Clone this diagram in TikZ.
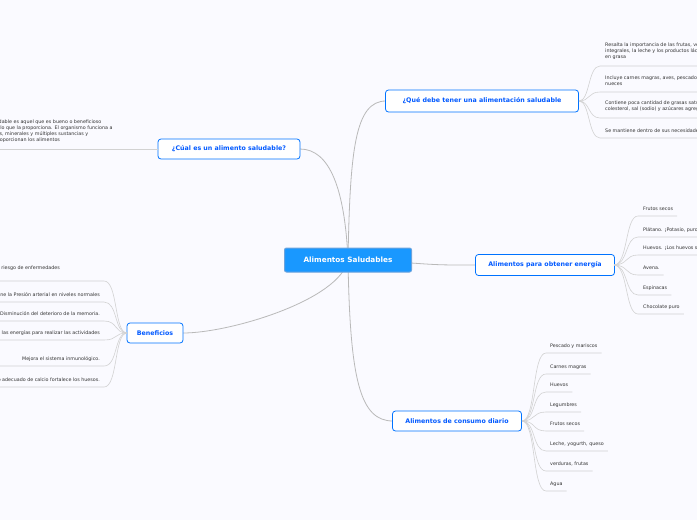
\documentclass[tikz,border=0pt]{standalone}
\usepackage{fontspec}
\setmainfont{DejaVu Sans}
\begin{document}
\begin{tikzpicture}[x=1pt,y=-1pt,
  conn/.style={draw=gray!55,line width=0.8pt},
  lconn/.style={draw=gray!35,line width=0.6pt},
  branch/.style={draw=blue!55!cyan,line width=0.8pt,fill=white,rounded corners=3pt,font=\fontsize{6.3}{8}\selectfont\bfseries,text=blue!65!cyan,inner sep=0pt},
  leaf/.style={font=\fontsize{4.8}{6}\selectfont,text=black!80,inner sep=0pt,align=left}]
\fill[blue!2!white] (0,0) rectangle (697,520);
\useasboundingbox (0,0) rectangle (697,520);
\clip (0,0) rectangle (697,520);
% connectors center
\coordinate (c) at (348,260);
\draw[conn] (c) .. controls (350,150) and (355,101) .. (386,101);
\draw[conn] (c) .. controls (345,190) and (330,149) .. (300,149);
\draw[conn] (411,263) .. controls (440,265) .. (475,265);
\draw[conn] (c) .. controls (340,300) and (230,333) .. (183,333);
\draw[conn] (c) .. controls (350,380) and (360,421) .. (393,421);
% central
\node[fill=blue!45!cyan!90!white,draw=cyan!60!blue!60,line width=1pt,rounded corners=2pt,minimum width=127,minimum height=24,font=\fontsize{7.3}{9}\selectfont\bfseries,text=white] (root) at (348,260) {Alimentos Saludables};
\node[branch,minimum width=193,minimum height=22] (q) at (482,101) {¿Qué debe tener una alimentación saludable};
\node[branch,minimum width=142,minimum height=20] (cu) at (229,149) {¿Cúal es un alimento saludable?};
\node[branch,minimum width=139,minimum height=21] (en) at (545,265) {Alimentos para obtener energía};
\node[branch,minimum width=56,minimum height=20] (be) at (155,333) {Beneficios};
\node[branch,minimum width=129,minimum height=20] (di) at (457,421) {Alimentos de consumo diario};
% Que leaves
\foreach \t/\u/\txt in {45/66/{Resalta la importancia de las frutas, verduras, granos\\integrales, la leche y los productos lácteos bajos\\en grasa},
  78/92/{Incluye carnes magras, aves, pescado, frijoles, huevos y\\nueces},
  103/118/{Contiene poca cantidad de grasas saturadas, grasas trans,\\colesterol, sal (sodio) y azúcares agregados},
  130/138/{Se mantiene dentro de sus necesidades diarias de calorías}}{
  \node[leaf,anchor=north west] at (605,\t-2) {\txt};
  \draw[lconn] (579,101) .. controls (590,101) and (588,\u) .. (600,\u) -- (697,\u);
}
% Cual leaf
\node[leaf,anchor=north west] at (-42,120) {Un alimento saludable es aquel que es bueno o beneficioso\\para la salud por lo que la proporciona. El organismo funciona a\\base de vitaminas, minerales y múltiples sustancias y\\nutrientes que proporcionan los alimentos};
\draw[lconn] (158,149) -- (0,149);
% Energia leaves
\foreach \t/\txt in {209/Frutos secos,230/{Plátano. ¡Potasio, puro!},248/{Huevos. ¡Los huevos son energía!},268/Avena.,288/Espinacas,307/Chocolate puro}{
  \node[leaf,anchor=west] (e\t) at (643,\t) {\txt};
  \draw[lconn] (614,265) .. controls (628,265) and (625,\t+7) .. (638,\t+7) -- ([xshift=4pt]e\t.east |- 0,\t+7);
}
% Diario leaves
\foreach \t/\txt in {346/Pescado y mariscos,367/Carnes magras,385/Huevos,405/Legumbres,424/Frutos secos,444/{Leche, yogurth, queso},464/{verduras, frutas},484/Agua}{
  \node[leaf,anchor=west] (d\t) at (550,\t) {\txt};
  \draw[lconn] (522,421) .. controls (536,421) and (532,\t+7) .. (546,\t+7) -- ([xshift=4pt]d\t.east |- 0,\t+7);
}
% Beneficios leaves
\node[leaf,anchor=east] at (60,268) {Reduce el riesgo de enfermedades};
\foreach \t/\txt in {295/{Mantiene la Presión arterial en niveles normales},314/{Disminución del deterioro de la memoria.},333/{Aporta las energías para realizar las actividades},359/{Mejora el sistema inmunológico.},380/{Un consumo adecuado de calcio fortalece los huesos.}}{
  \node[leaf,anchor=east] at (100,\t) {\txt};
  \draw[lconn] (127,333) .. controls (114,333) and (118,\t+7) .. (104,\t+7) -- (0,\t+7);
}
\draw[lconn] (127,333) .. controls (114,333) and (118,281) .. (104,281) -- (0,281);
\end{tikzpicture}
\end{document}
